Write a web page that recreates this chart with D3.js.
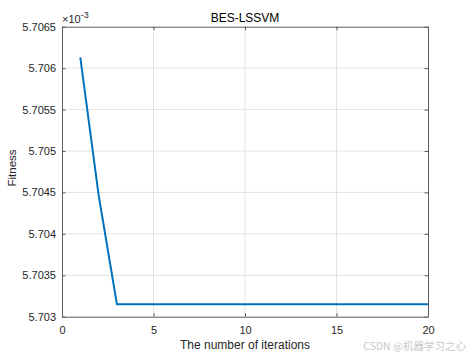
<!DOCTYPE html>
<html><head><meta charset="utf-8">
<script src="https://cdn.jsdelivr.net/npm/d3@7"></script>
<style>
html,body{margin:0;padding:0;background:#fff;}
svg{display:block;font-family:"Liberation Sans",Arial,sans-serif;}
</style></head>
<body>
<svg id="c" width="474" height="355"></svg>
<script>
const iterations = [1,2,3,4,5,6,7,8,9,10,11,12,13,14,15,16,17,18,19,20];
const fitness = [5.70613,5.70447,5.70315,5.70315,5.70315,5.70315,5.70315,5.70315,5.70315,5.70315,5.70315,5.70315,5.70315,5.70315,5.70315,5.70315,5.70315,5.70315,5.70315,5.70315]; // x 1e-3
const xTicks = [0,5,10,15,20];
const yTicks = [5.703,5.7035,5.704,5.7045,5.705,5.7055,5.706,5.7065];
const yTickLabels = ["5.703","5.7035","5.704","5.7045","5.705","5.7055","5.706","5.7065"];
const titleText = "BES-LSSVM";
const xLabel = "The number of iterations";
const yLabel = "Fitness";
const watermark = "CSDN @机器学习之心";

const L=62, R=428, T=26.7, B=316.7;
const svg = d3.select("#c");
const x = d3.scaleLinear().domain([0,20]).range([L,R]);
const y = d3.scaleLinear().domain([5.703,5.7065]).range([B,T]);
const axisCol="#5a5a5a", gridCol="#e3e3e3", txtCol="#262626";

// grid
svg.append("g").selectAll("line").data(xTicks.slice(1,-1)).join("line")
  .attr("x1",d=>x(d)).attr("x2",d=>x(d)).attr("y1",T).attr("y2",B)
  .attr("stroke",gridCol).attr("stroke-width",1);
svg.append("g").selectAll("line").data(yTicks.slice(1,-1)).join("line")
  .attr("y1",d=>y(d)).attr("y2",d=>y(d)).attr("x1",L).attr("x2",R)
  .attr("stroke",gridCol).attr("stroke-width",1);

// axes
const xa = svg.append("g").attr("transform",`translate(0,${B})`)
  .call(d3.axisBottom(x).tickValues(xTicks).tickSizeInner(-3.5).tickSizeOuter(0).tickPadding(10));
const xa2 = svg.append("g").attr("transform",`translate(0,${T})`)
  .call(d3.axisTop(x).tickValues(xTicks).tickSizeInner(-3.5).tickSizeOuter(0).tickFormat(""));
const ya = svg.append("g").attr("transform",`translate(${L},0)`)
  .call(d3.axisLeft(y).tickValues(yTicks).tickFormat((d,i)=>yTickLabels[i]).tickSizeInner(-3.5).tickSizeOuter(0).tickPadding(6));
const ya2 = svg.append("g").attr("transform",`translate(${R},0)`)
  .call(d3.axisRight(y).tickValues(yTicks).tickSizeInner(-3.5).tickSizeOuter(0).tickFormat(""));
[xa,xa2,ya,ya2].forEach(g=>{
  g.select(".domain").attr("stroke",axisCol);
  g.selectAll(".tick line").attr("stroke",axisCol);
  g.selectAll("text").attr("fill",txtCol).style("font-size","11px").style("font-family","Liberation Sans, Arial, sans-serif");
});

// line
svg.append("path").datum(iterations.map((d,i)=>[d,fitness[i]]))
  .attr("fill","none").attr("stroke","#0072BD").attr("stroke-width",2)
  .attr("d",d3.line().x(d=>x(d[0])).y(d=>y(d[1])));

// exponent
const ex = svg.append("text").attr("x",L).attr("y",T-4).attr("fill",txtCol).style("font-size","11px");
ex.append("tspan").text("×10");
ex.append("tspan").attr("dy",-5).style("font-size","9px").text("-3");

// title & labels
svg.append("text").attr("x",(L+R)/2).attr("y",22).attr("text-anchor","middle")
  .attr("fill","#000").style("font-size","12px").text(titleText);
svg.append("text").attr("x",(L+R)/2).attr("y",349).attr("text-anchor","middle")
  .attr("fill",txtCol).style("font-size","12px").text(xLabel);
svg.append("text").attr("transform",`translate(16,168) rotate(-90)`).attr("text-anchor","middle")
  .attr("fill",txtCol).style("font-size","11.5px").text(yLabel);
svg.append("text").attr("x",466).attr("y",350).attr("text-anchor","end")
  .attr("fill","#c8c8c8").style("font-size","10.5px").style("font-family","Noto Sans CJK SC, Liberation Sans, sans-serif").text(watermark);
</script>
</body></html>
